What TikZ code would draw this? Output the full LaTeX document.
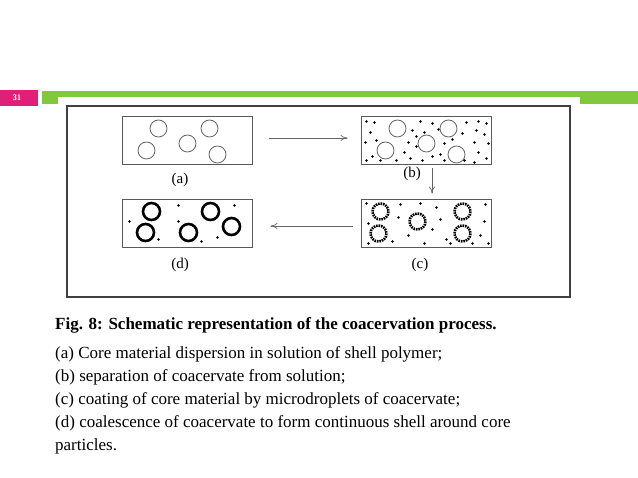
\documentclass[tikz,border=0pt]{standalone}
\usepackage{fontspec}
\setmainfont{Liberation Serif}
\usetikzlibrary{arrows.meta,calc,positioning}
\definecolor{slidegreen}{RGB}{128,200,60}
\definecolor{slidepink}{RGB}{226,30,120}
% five cores inside a panel, #1 = panel corner, #2 = style
\newcommand{\corering}[2]{
	\foreach \cx/\cy in {37/12, 88/12, 25/34, 66/27, 96/38}
		\draw[#2] ($(#1)+(\cx,\cy)$) circle (8.5);
	}
\newcommand{\dropsat}[2]{
	\foreach \dx/\dy in {#2}
		\fill ($(#1)+(\dx,\dy)$) circle (1.3);
	}
\begin{document}
\begin{tikzpicture}[x=1pt,y=-1pt,
	panel/.style={draw=black!65, line width=1pt, minimum width=130pt, minimum height=48pt, inner sep=0pt},
	tag/.style={font=\fontsize{15}{15}\selectfont},
	flow/.style={-{To[length=7pt,width=6pt]}, black!60, line width=0.7pt}]
	\useasboundingbox (0,0) rectangle (638,478);

	% slide header
	\fill[slidepink] (0,90) rectangle (38,106);
	\node[text=white, font=\sffamily\bfseries\fontsize{8}{8}\selectfont] (num) at (17,98) {31};
	\fill[slidegreen] (42,91) rectangle (638,104);
	\fill[white] (58,97) rectangle (580,298);
	\draw[black!75, line width=1.2pt] (67,106) rectangle (570,297);

	% four panels
	\node[panel] (pa) at (187,141) {};
	\node[panel] (pb) at (426,141) {};
	\node[panel] (pd) at (187,224) {};
	\node[panel] (pc) at (426,224) {};
	\node[tag] (la) at (180,180) {(a)};
	\node[tag] (lb) at (412,174) {(b)};
	\node[tag] (ld) at (180,265) {(d)};
	\node[tag] (lc) at (420,265) {(c)};

	\corering{pa.north west}{black!60, line width=0.8pt}
	\corering{pb.north west}{black!60, line width=0.8pt}
	\dropsat{pb.north west}{6/5, 14/6, 60/5, 72/7, 78/13, 106/6, 118/5, 126/7, 10/16, 52/14, 56/20, 64/16, 102/17, 116/14, 124/18,
		5/26, 16/24, 48/26, 56/30, 84/27, 92/23, 114/26, 128/27, 12/40, 44/36, 50/42, 80/38, 84/44, 118/36, 126/42,
		6/44, 20/44, 36/44, 62/44, 72/40, 104/44, 114/46}

	\foreach \cx/\cy in {20/12, 102/12, 57/22, 18/34, 102/34}
		\draw[black, line width=2.6pt, dash pattern=on 1.6pt off 0.9pt] ($(pc.north west)+(\cx,\cy)$) circle (8);
	\dropsat{pc.north west}{6/4, 40/5, 60/4, 76/8, 125/5, 38/18, 80/20, 124/22, 8/24, 48/36, 72/30, 86/40,
		120/36, 8/44, 32/42, 64/44, 90/44, 112/44, 128/44}

	\foreach \cx/\cy in {30/12, 89/12, 24/33, 67/33, 110/27}
		\draw[black, line width=2.6pt] ($(pd.north west)+(\cx,\cy)$) circle (8.5);
	\dropsat{pd.north west}{57/6, 113/6, 8/22, 57/22, 37/40, 80/42, 96/38}

	% process arrows
	\coordinate (bdown) at ($(pb.south)+(6,3)$);
	\draw[flow] ($(pa.east)+(16,-3)$) -- ($(pb.west)+(-13,-3)$);
	\draw[flow] (bdown) -- ++(0,25);
	\draw[flow] ($(pc.west)+(-8,2)$) -- ($(pd.east)+(18,2)$);

	% caption
	\node[anchor=base west, font=\bfseries\fontsize{17}{23}\selectfont, inner sep=0pt] (cap) at (55,330)
		{Fig. 8: Schematic representation of the coacervation process.};
	\node[anchor=north west, align=left, font=\fontsize{17}{23}\selectfont, inner sep=0pt] (desc) at (55,346)
		{(a) Core material dispersion in solution of shell polymer;\\
		(b) separation of coacervate from solution;\\
		(c) coating of core material by microdroplets of coacervate;\\
		(d) coalescence of coacervate to form continuous shell around core\\
		particles.};
\end{tikzpicture}
\end{document}
